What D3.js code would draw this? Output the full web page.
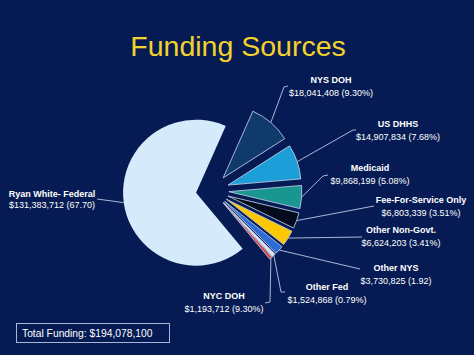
<!DOCTYPE html>
<html>
<head>
<meta charset="utf-8">
<script src="https://cdn.jsdelivr.net/npm/d3@7"></script>
<style>
  html, body { margin: 0; padding: 0; background: #061b53; }
  svg { display: block; }
</style>
</head>
<body>
<svg id="chart"></svg>
<script>
// data
const sources = ["NYS DOH", "US DHHS", "Medicaid", "Fee-For-Service Only", "Other Non-Govt.",
  "Other NYS", "Other Fed", "NYC DOH", "Ryan White- Federal"];
const amounts = [18041408, 14907834, 9868199, 6803339, 6624203, 3730825, 1524868, 1193712, 131383712];
const valueLabels = ["$18,041,408 (9.30%)", "$14,907,834 (7.68%)", "$9,868,199 (5.08%)",
  "$6,803,339 (3.51%)", "$6,624,203 (3.41%)", "$3,730,825 (1.92)", "$1,524,868 (0.79%)",
  "$1,193,712 (9.30%)", "$131,383,712 (67.70)"];
const sliceColors = ["#10396c", "#1c9fd9", "#19968f", "#030b1c", "#fdc800",
  "#2c6cd4", "#dcdff5", "#e23a36", "#d5ebfb"];
const totalLabel = "Total Funding: $194,078,100";

// label placement: [center x, name baseline], leader bend points
const labelPos = [[331, 83], [398, 127], [370, 171], [421, 203], [401, 233],
  [396, 271], [327, 290], [224, 299], [52, 197]];
const leaderPts = [
  [[284, 87], [288, 86]],
  [[353, 130], [356, 130]],
  [[323, 176], [328, 175]],
  [[374, 206]],
  [[362, 237]],
  [[360, 269]],
  [[281, 292], [285, 292]],
  [[270, 302], [265, 303]],
  [[97, 199]]
];

const width = 474, height = 355;
const cx = 212.4, cy = 190.4, radius = 73, explode = 16.5;
const deg = Math.PI / 180;

const svg = d3.select("#chart").attr("width", width).attr("height", height);
svg.append("rect").attr("width", width).attr("height", height).attr("fill", "#061b53");

svg.append("text")
  .attr("x", 238).attr("y", 56)
  .attr("text-anchor", "middle")
  .attr("font-family", "Liberation Sans, Arial, sans-serif")
  .attr("font-size", 28.5)
  .attr("fill", "#f3d22c")
  .text("Funding Sources");

const pie = d3.pie().sort(null).value((d) => d)
  .startAngle(24 * deg).endAngle(24 * deg + 2 * Math.PI);
const arc = d3.arc().innerRadius(0).outerRadius(radius);
const arcs = pie(amounts);

const mid = (d) => (d.startAngle + d.endAngle) / 2;
const offset = (d, r) => [Math.sin(mid(d)) * r, -Math.cos(mid(d)) * r];

const g = svg.append("g").attr("transform", `translate(${cx},${cy})`);

g.selectAll(".slice")
  .data(arcs)
  .enter()
  .append("path")
  .attr("class", "slice")
  .attr("transform", (d) => `translate(${offset(d, explode)})`)
  .attr("d", arc)
  .attr("fill", (d, i) => sliceColors[i])
  .attr("stroke", (d, i) => (i === 8 ? "none" : "#b9c6e2"))
  .attr("stroke-width", 0.9)
  .attr("stroke-linejoin", "round");

// leader lines
const line = d3.line();
svg.selectAll(".leader")
  .data(arcs)
  .enter()
  .append("path")
  .attr("class", "leader")
  .attr("d", (d, i) => {
    const e = offset(d, explode), o = offset(d, radius);
    const start = [cx + e[0] + o[0], cy + e[1] + o[1]];
    return line([start, ...leaderPts[i]]);
  })
  .attr("fill", "none")
  .attr("stroke", "#aab8d8")
  .attr("stroke-width", 1);

// labels
const labels = svg.selectAll(".label")
  .data(sources)
  .enter()
  .append("text")
  .attr("class", "label")
  .attr("text-anchor", "middle")
  .attr("font-family", "Liberation Sans, Arial, sans-serif")
  .attr("font-size", 9)
  .attr("fill", "#ffffff");

labels.append("tspan")
  .attr("x", (d, i) => labelPos[i][0])
  .attr("y", (d, i) => labelPos[i][1])
  .attr("font-weight", "bold")
  .text((d) => d);

labels.append("tspan")
  .attr("x", (d, i) => labelPos[i][0])
  .attr("y", (d, i) => labelPos[i][1] + (i === 8 ? 10.5 : 12.5))
  .text((d, i) => valueLabels[i]);

// total box
svg.append("rect")
  .attr("x", 16.5).attr("y", 323.5)
  .attr("width", 153).attr("height", 19)
  .attr("fill", "none")
  .attr("stroke", "#a9b7d6")
  .attr("stroke-width", 1);

svg.append("text")
  .attr("x", 22).attr("y", 337)
  .attr("font-family", "Liberation Sans, Arial, sans-serif")
  .attr("font-size", 10.3)
  .attr("fill", "#ffffff")
  .text(totalLabel);
</script>
</body>
</html>
